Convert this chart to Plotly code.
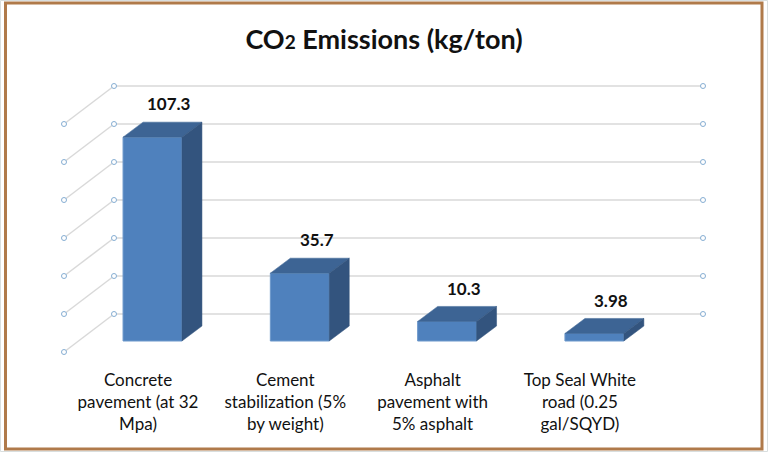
import plotly.graph_objects as go

# data
categories = [
    "Concrete<br>pavement (at 32<br>Mpa)",
    "Cement<br>stabilization (5%<br>by weight)",
    "Asphalt<br>pavement with<br>5% asphalt",
    "Top Seal White<br>road (0.25<br>gal/SQYD)",
]
values = [107.3, 35.7, 10.3, 3.98]
value_labels = ["107.3", "35.7", "10.3", "3.98"]
grid_levels = [0, 20, 40, 60, 80, 100, 120]

# fake 3d geometry (in axis units)
W, H = 768, 452
PX_X, PX_Y = 147.3, 1.9      # pixels per category / per unit
BOTTOM = 90                  # bottom margin for category labels
BAR_W = 0.40
BAR_DX, BAR_DY = 20 / PX_X, 15 / PX_Y
FLOOR_DX, FLOOR_DY = -14.5 / PX_X, -11 / PX_Y
BACK_DX, BACK_DY = 35.5 / PX_X, 27 / PX_Y
LEFT_X = (64 - 152.5) / PX_X
RIGHT_X = (703 - 152.5) / PX_X

FRONT = "#4F81BD"
TOP = "#3D6494"
SIDE = "#33547E"
GRID = "#D9D9D9"

fig = go.Figure()

# back wall + left wall gridlines
for v in grid_levels:
    yb = v + BACK_DY
    fig.add_shape(type="line", layer="below", x0=LEFT_X + BACK_DX - FLOOR_DX, y0=yb,
                  x1=RIGHT_X, y1=yb, line=dict(color=GRID, width=1.5))
    fig.add_shape(type="line", layer="below", x0=LEFT_X, y0=v + FLOOR_DY,
                  x1=LEFT_X + BACK_DX - FLOOR_DX, y1=yb, line=dict(color=GRID, width=1.5))

dot_x, dot_y = [], []
for v in grid_levels:
    dot_x += [LEFT_X, LEFT_X + BACK_DX - FLOOR_DX, RIGHT_X]
    dot_y += [v + FLOOR_DY, v + BACK_DY, v + BACK_DY]
fig.add_trace(go.Scatter(x=dot_x, y=dot_y, mode="markers", hoverinfo="skip",
                         marker=dict(symbol="circle", size=5, color="white",
                                     line=dict(color="#86AED3", width=1))))

# bars: front faces
xs = list(range(len(values)))
fig.add_trace(go.Bar(x=xs, y=values, width=BAR_W, marker_color=FRONT,
                     marker_line=dict(color="#6D98CB", width=1), hoverinfo="skip"))

# top and side faces
for i, v in enumerate(values):
    l, r = i - BAR_W / 2, i + BAR_W / 2
    fig.add_trace(go.Scatter(
        x=[l, l + BAR_DX, r + BAR_DX, r, l],
        y=[v, v + BAR_DY, v + BAR_DY, v, v],
        fill="toself", fillcolor=TOP, mode="lines",
        line=dict(color=TOP, width=0.5), hoverinfo="skip"))
    fig.add_trace(go.Scatter(
        x=[r, r + BAR_DX, r + BAR_DX, r, r],
        y=[0, BAR_DY, v + BAR_DY, v, 0],
        fill="toself", fillcolor=SIDE, mode="lines",
        line=dict(color=SIDE, width=0.5), hoverinfo="skip"))
    fig.add_annotation(x=i + 0.115, y=v + 17.5, text="<b>%s</b>" % value_labels[i],
                       showarrow=False, font=dict(size=17, color="#111111"))

# frame
plot_h = H - BOTTOM
def px(xp):
    return xp / W
def py(yp):
    return (plot_h - yp) / plot_h

fig.add_shape(type="rect", xref="paper", yref="paper", x0=px(0.5), y0=py(451.5),
              x1=px(767.5), y1=py(0.5), line=dict(color="#D9DEDE", width=1))
fig.add_shape(type="rect", xref="paper", yref="paper", x0=px(5.5), y0=py(449),
              x1=px(762), y1=py(3), line=dict(color="#B07A4A", width=3))

fig.update_layout(
    width=W, height=H,
    margin=dict(l=0, r=0, t=0, b=BOTTOM),
    paper_bgcolor="white", plot_bgcolor="white",
    showlegend=False,
    font=dict(family="Lato, Carlito, sans-serif", color="#111111"),
    title=dict(text="<b>CO<span style='font-size:19px'>2</span> Emissions (kg/ton)</b>",
               x=0.5, xanchor="center", y=1 - 40 / H, yanchor="middle",
               font=dict(size=27, color="#111111")),
    xaxis=dict(range=[-152.5 / PX_X, (W - 152.5) / PX_X], showgrid=False,
               zeroline=False, showline=False, ticks="",
               tickvals=[i + FLOOR_DX for i in xs], ticktext=categories,
               tickfont=dict(size=17), ticklabelstandoff=6, fixedrange=True),
    yaxis=dict(range=[(341 - plot_h) / PX_Y, 341 / PX_Y], showgrid=False,
               zeroline=False, showline=False, showticklabels=False,
               fixedrange=True),
)

fig.write_html("out.html", config={"displayModeBar": False},
               post_script="document.body.style.margin='0';")
